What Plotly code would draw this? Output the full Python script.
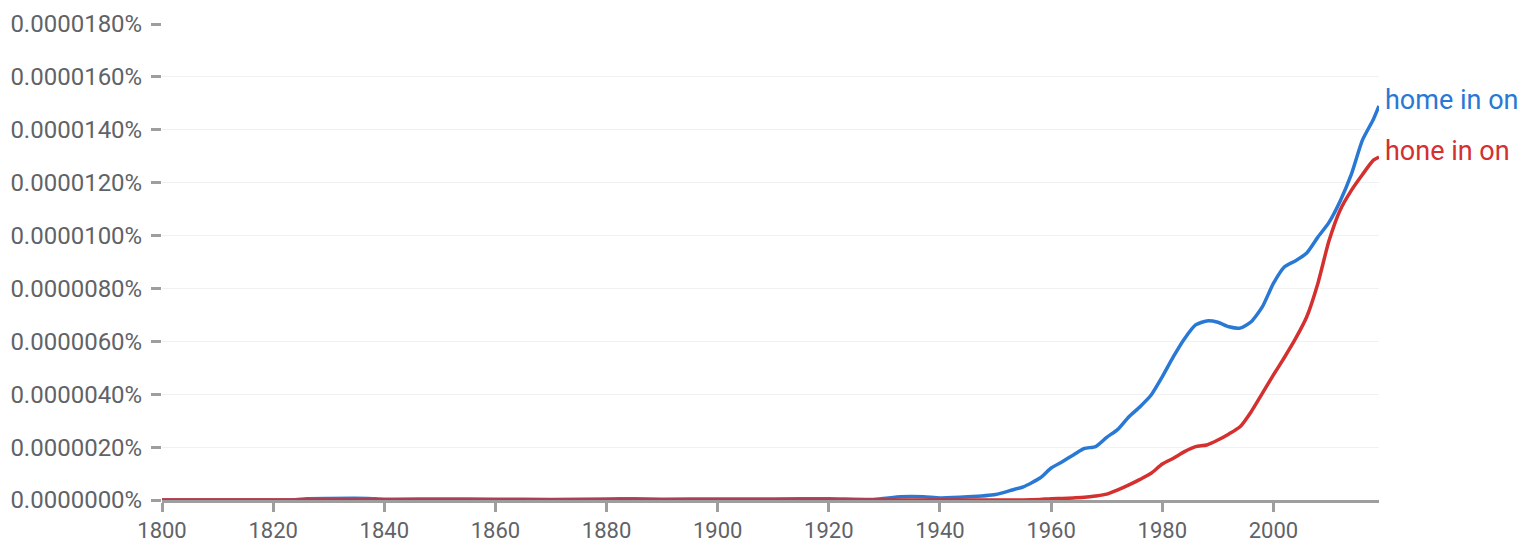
import numpy as np
import plotly.graph_objects as go

# frequency values in millionths of a percent (1e-6 %)
years = [1800, 1810, 1820, 1824, 1826, 1830, 1837, 1840, 1850, 1860, 1870, 1880, 1885,
         1890, 1900, 1910, 1920, 1928, 1933, 1937, 1940, 1945, 1950, 1953, 1955, 1958,
         1960, 1962, 1964, 1966, 1968, 1970, 1972, 1974, 1976, 1978, 1980, 1982, 1984,
         1986, 1988, 1990, 1992, 1994, 1996, 1998, 2000, 2002, 2004, 2006, 2008, 2010,
         2012, 2014, 2016, 2018, 2019]

home_in_on = [0.0, 0.0, 0.0, 0.01, 0.05, 0.06, 0.06, 0.03, 0.04, 0.03, 0.02, 0.04, 0.05,
              0.03, 0.04, 0.04, 0.05, 0.02, 0.12, 0.12, 0.08, 0.12, 0.21, 0.38, 0.5, 0.83,
              1.21, 1.45, 1.7, 1.95, 2.02, 2.37, 2.67, 3.15, 3.53, 3.97, 4.66, 5.42, 6.1,
              6.62, 6.77, 6.72, 6.55, 6.5, 6.74, 7.3, 8.19, 8.82, 9.05, 9.34, 9.94, 10.5,
              11.3, 12.3, 13.6, 14.4, 14.9]

hone_in_on = [0.0, 0.0, 0.0, 0.0, 0.0, 0.0, 0.0, 0.0, 0.0, 0.0, 0.0, 0.0, 0.0,
              0.0, 0.0, 0.0, 0.0, 0.0, 0.0, 0.0, 0.0, 0.0, 0.0, 0.0, 0.0, 0.02,
              0.05, 0.06, 0.08, 0.1, 0.15, 0.22, 0.38, 0.57, 0.78, 1.01, 1.36, 1.58, 1.83,
              2.02, 2.08, 2.27, 2.5, 2.77, 3.34, 4.03, 4.73, 5.4, 6.11, 6.93, 8.19, 9.8,
              10.96, 11.7, 12.3, 12.85, 12.97]

SERIES = [("home in on", home_in_on, "#2878d4"), ("hone in on", hone_in_on, "#d3302f")]
y_ticks = [0, 2, 4, 6, 8, 10, 12, 14, 16, 18]
y_labels = ["0.0000000%", "0.0000020%", "0.0000040%", "0.0000060%", "0.0000080%",
            "0.0000100%", "0.0000120%", "0.0000140%", "0.0000160%", "0.0000180%"]
x_ticks = [1800, 1820, 1840, 1860, 1880, 1900, 1920, 1940, 1960, 1980, 2000]

fig = go.Figure()
for name, vals, color in SERIES:
    y = np.array(vals) * 1e-6
    fig.add_trace(go.Scatter(x=years, y=y, name=name, mode="lines",
                             line=dict(color=color, width=3.5, shape="spline", smoothing=0.6)))
    fig.add_annotation(x=years[-1], y=y[-1], text=name, showarrow=False, xanchor="left",
                       xshift=4, yshift=6, font=dict(size=27, color=color, family="Roboto"))

# page body has an 8px margin, so the margins are offset to land the plot area at 162..1379, 24..500
fig.update_layout(
    width=1536, height=547, template="plotly_white", showlegend=False,
    margin=dict(l=154, r=165, t=16, b=55),
    font=dict(family="Roboto", size=22, color="#5f6368"),
    plot_bgcolor="white", paper_bgcolor="white",
)
fig.update_xaxes(range=[1800, 2019], tickvals=x_ticks, showgrid=False, zeroline=False,
                 automargin=False, showline=True, linecolor="#9e9e9e", linewidth=3,
                 ticks="outside", ticklen=9, tickwidth=3, tickcolor="#9e9e9e",
                 tickfont=dict(size=22, color="#5f6368"))
fig.update_yaxes(range=[0, 18e-6], tickvals=[v * 1e-6 for v in y_ticks], ticktext=y_labels,
                 automargin=False, zeroline=False, showline=False, gridcolor="#f1f1f1", gridwidth=1,
                 ticks="outside", ticklen=10, tickwidth=3, tickcolor="#9e9e9e",
                 ticklabelstandoff=4, tickfont=dict(size=24, color="#5f6368"))

fig.write_html("out.html")
